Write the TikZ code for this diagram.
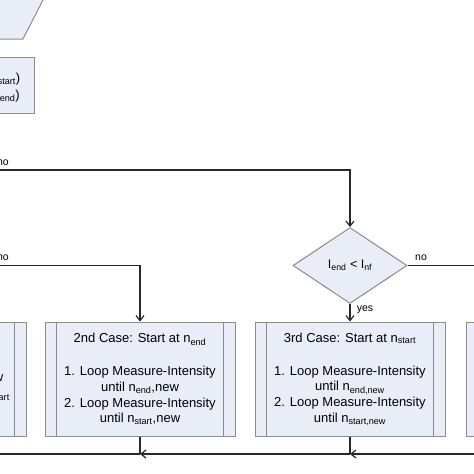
\documentclass[tikz,border=0pt]{standalone}
\usepackage{fontspec}
\setmainfont{Liberation Sans}
\usetikzlibrary{arrows.meta,shapes.geometric}
\definecolor{boxfill}{RGB}{232,237,248}
\definecolor{boxline}{RGB}{140,140,140}
\definecolor{conn}{RGB}{40,40,40}
\begin{document}
\begin{tikzpicture}[x=1pt,y=-1pt,
  shapebox/.style={draw=boxline, fill=boxfill, line width=1pt},
  casebox/.style={shapebox, rectangle, minimum width=190pt, minimum height=114pt,
    inner sep=0pt, align=center, font=\fontsize{13}{15.7}\selectfont},
  decision/.style={shapebox, diamond, minimum width=114pt, minimum height=76pt,
    inner sep=0pt, font=\fontsize{12.5}{15}\selectfont},
  sidebar/.style={draw=boxline, line width=1pt},
  conn/.style={draw=conn, line width=1.2pt},
  arr/.style={conn, -{Straight Barb[length=5pt,width=8pt]}},
  lbl/.style={font=\fontsize{10.5}{12}\selectfont, inner sep=0pt},
  frag/.style={font=\fontsize{13}{15.7}\selectfont, inner sep=0pt, anchor=east}
]
\useasboundingbox (0,0) rectangle (474,474);
\clip (0,0) rectangle (474,474);
\fill[white] (0,0) rectangle (474,474);

% top-left data shape
\draw[shapebox] (-20,-5) -- (45.6,-5) -- (23,39) -- (-20,39) -- cycle;

% top-left process box
\node[shapebox, rectangle, minimum width=188pt, minimum height=56pt, inner sep=0pt] (pb) at (-60,85) {};
\node[frag] (f1) at (20.5,79) {\textsubscript{start})};
\node[frag] (f2) at (20,96) {\textsubscript{end})};

% decision
\node[decision] (d) at (350,265.5) {I\textsubscript{end} < I\textsubscript{nf}};

% case boxes
\node[casebox] (b1) at (-69,379) {};
\node[casebox] (b2) at (140,379) {2nd Case: Start at n\textsubscript{end}\\[17.3pt]
  1. Loop Measure-Intensity\\ until n\textsubscript{end},new\\
  2. Loop Measure-Intensity\\ until n\textsubscript{start},new};
\node[casebox] (b3) at (350,379) {3rd Case: Start at n\textsubscript{start}\\[17.3pt]
  1. Loop Measure-Intensity\\ until n\textsubscript{end,new}\\
  2. Loop Measure-Intensity\\ until n\textsubscript{start,new}};
\node[casebox] (b4) at (561,379) {};
\foreach \b in {b1,b2,b3,b4}{
  \draw[sidebar] ([xshift=12pt]\b.north west) -- ([xshift=12pt]\b.south west);
  \draw[sidebar] ([xshift=-12pt]\b.north east) -- ([xshift=-12pt]\b.south east);
}
\node[frag] (f3) at (3.5,378) {w};
\node[frag] (f4) at (10,398) {\textsubscript{art}};

% connectors
\coordinate (n1) at (-20,170);
\coordinate (n2) at (-20,265.5);
\draw[arr] (n1) -| (d.north);
\draw[arr] (n2) -| (b2.north);
\draw[arr] (d.east) -| (b4.north);
\draw[arr] (d.south) -- (b3.north);

\node[lbl] (no1) at (3,163) {no};
\node[lbl] (no2) at (3,258) {no};
\node[lbl] (no3) at (421,258) {no};
\node[lbl] (yes) at (365,310) {yes};

% bottom merge line
\coordinate (j2) at (140,454);
\coordinate (j3) at (350,454);
\coordinate (jl) at (-20,454);
\draw[arr] (b4.south) |- (j3);
\draw[conn] (b3.south) -- (j3);
\draw[arr] (j3) -- (j2);
\draw[conn] (b2.south) -- (j2);
\draw[conn] (j2) -- (jl);
\end{tikzpicture}
\end{document}
